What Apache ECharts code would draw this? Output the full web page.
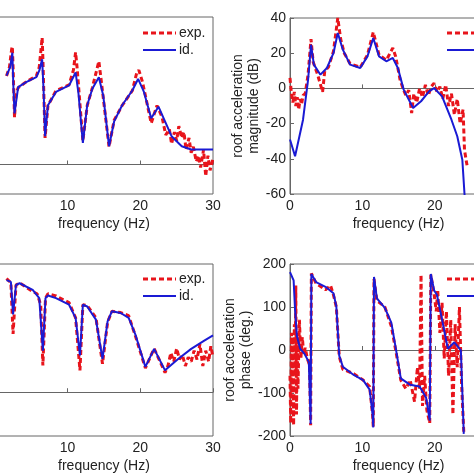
<!DOCTYPE html>
<html><head><meta charset="utf-8">
<script src="https://cdn.jsdelivr.net/npm/echarts@6/dist/echarts.min.js"></script>
<style>html,body{margin:0;padding:0;background:#fff;overflow:hidden;width:474px;height:474px}#c{position:absolute;left:-12px;top:0;width:530px;height:474px}</style>
</head><body><div id="c"></div>
<script>
const xTicks=[0,10,20,30];
const legendNames=['exp.','id.'];
// top-left (arbitrary units, labels cropped)
const tlId=[[1.6,3.01],[2.1,3.3],[2.4,3.79],[2.55,2.6],[2.7,1.73],[3.2,2.62],[4.3,2.79],[5.7,2.96],[6.1,3.18],[6.5,3.57],[6.7,2.5],[6.9,0.96],[7.3,2.01],[8.4,2.46],[10.2,2.68],[11.1,3.12],[11.5,2.4],[12.1,0.73],[12.7,2.01],[13.4,2.57],[14.3,2.96],[14.9,2.34],[15.7,0.62],[16.4,1.46],[17.5,2.01],[18.9,2.51],[19.7,2.9],[20.5,2.46],[21.5,1.57],[22.5,1.96],[23.4,1.46],[24.3,0.96],[25.7,0.62],[27,0.51],[30,0.51]];
const tlExp=[[1.6,3.0],[2.0,3.3],[2.3,3.9],[2.4,4.0],[2.5,3.3],[2.7,1.6],[2.9,2.4],[3.2,2.6],[4.3,2.8],[5.7,3.0],[6.1,3.3],[6.3,3.8],[6.5,4.3],[6.6,3.6],[6.9,0.9],[7.3,2.0],[8.4,2.5],[10.2,2.7],[10.8,3.2],[11.1,3.8],[11.3,3.3],[12.1,0.8],[12.7,2.0],[13.4,2.6],[14.1,3.3],[14.3,3.5],[14.6,2.9],[15.7,0.6],[16.4,1.5],[17.5,2.0],[18.9,2.5],[19.5,3.1],[19.8,3.2],[20.3,2.8],[21.5,1.4],[22.3,2.0],[23.0,1.6],[23.5,1.0],[24.0,1.2],[24.3,0.7],[24.7,1.1],[25.0,0.8],[25.3,1.3],[25.7,0.9],[26.0,1.1],[26.3,0.5],[26.7,0.9],[27.0,0.4],[27.3,0.6],[27.7,0.1],[28.0,0.3],[28.3,-0.1],[28.7,0.5],[29.0,-0.4],[29.3,0.3],[29.6,-0.2],[30,0.2]];
// top-right magnitude (dB)
const trId=[[0,-29],[0.7,-38.6],[1.8,-17.8],[2.5,5],[2.9,24.8],[3.3,13.5],[4.2,7.8],[5.1,11.6],[6,20],[6.6,31.5],[7.3,22],[8.3,13.5],[9.7,11.6],[10.7,18.2],[11.5,28.6],[12.3,18.2],[13.3,15.4],[14.2,17.3],[14.9,11.6],[15.7,-0.7],[17,-11.1],[18.1,-7.3],[19.2,-1.7],[19.9,0.2],[21,-4.5],[22.3,-17.8],[23.1,-27.2],[23.8,-40.5],[24.1,-60],[24.5,-75]];
const trExp=[[0,6],[0.2,-3],[0.4,-8],[0.6,-2],[0.8,-10],[1.0,-5],[1.2,-12],[1.4,-6],[1.6,-9],[1.8,-4],[2.1,-3],[2.5,8],[2.9,28],[3.2,15],[3.8,8],[4.5,-2],[4.8,10],[5.3,12],[6,21],[6.6,40],[7.0,28],[7.5,20],[8.3,14],[9.7,12],[10.7,19],[11.5,32],[12.3,19],[13.3,16],[14.2,23],[14.6,18],[15.2,5],[15.6,0],[16.0,-4],[16.4,-1],[16.8,-14],[17.1,-3],[17.5,-8],[17.9,0],[18.3,-5],[18.7,2],[19.1,-4],[19.5,1],[19.9,3],[20.3,-2],[20.7,1],[21.1,-6],[21.5,2],[21.9,-10],[22.3,-3],[22.7,-15],[23.1,-6],[23.5,-20],[23.9,-12],[24.1,-35],[24.5,-45]];
// bottom-left (arbitrary units, labels cropped)
const blId=[[1.6,2.56],[2.2,2.52],[2.5,1.78],[2.9,2.45],[3.4,2.49],[5.2,2.34],[6.1,2.15],[6.6,0.95],[6.96,2.15],[7.3,2.21],[8.4,2.15],[10.2,2.0],[11.1,1.7],[11.7,0.84],[12.1,2.0],[12.7,1.96],[13.9,1.66],[14.8,0.76],[15.5,1.62],[16.1,1.85],[17.3,1.81],[18.4,1.7],[19.3,1.33],[20.7,0.58],[21.9,0.99],[23.4,0.5],[25.2,0.76],[27,0.99],[28.8,1.18],[30,1.3]];
const blExp=[[1.6,2.6],[2.2,2.5],[2.5,1.33],[2.9,2.45],[3.4,2.5],[5.2,2.3],[5.8,2.25],[6.3,2.0],[6.6,0.61],[6.96,2.15],[7.3,2.25],[8.4,2.2],[10.2,2.05],[11.1,1.7],[11.7,0.5],[12.1,2.0],[12.7,1.98],[13.9,1.7],[14.8,0.65],[15.5,1.6],[16.1,1.85],[17.3,1.82],[18.4,1.75],[19.3,1.3],[20.7,0.55],[21.9,1.0],[23.4,0.45],[23.8,0.6],[24.2,0.9],[24.6,0.7],[25.0,1.0],[25.4,0.75],[25.8,0.85],[26.2,0.6],[26.6,0.8],[27.0,0.7],[27.4,0.95],[27.8,0.75],[28.2,1.1],[28.6,0.6],[29.0,0.95],[29.4,0.7],[29.7,1.05],[30,0.8]];
// bottom-right phase (deg.)
const brId=[[0,181],[0.5,162],[0.7,94],[0.95,33],[1.4,3],[2,-9],[2.6,-28],[2.85,-172],[2.95,177],[3.6,158],[4.9,147],[6,132],[6.4,101],[6.8,-13],[7.3,-39],[8.8,-58],[10.1,-70],[11,-92],[11.4,-149],[11.5,-180],[11.6,170],[12,120],[13.1,98],[14,63],[14.7,-5],[15.3,-66],[16.6,-81],[17.9,-85],[18.8,-111],[19.3,-164],[19.45,177],[19.9,139],[20.3,128],[21,71],[21.8,3],[22.7,18],[23.6,-1],[24,-195]];
const brExp=[[0,-60],[0.1,-170],[0.2,40],[0.3,-110],[0.4,20],[0.5,-175],[0.6,60],[0.7,-60],[0.8,150],[0.9,-150],[1.0,40],[1.1,-90],[1.3,70],[1.5,-20],[1.7,30],[1.9,-10],[2.1,5],[2.4,-20],[2.7,-35],[2.85,-175],[2.95,178],[3.6,155],[4.9,140],[5.6,150],[6,128],[6.4,100],[6.8,-15],[7.3,-45],[8.8,-55],[10.1,-70],[11,-85],[11.4,-150],[11.5,-178],[11.6,165],[12,115],[13.1,100],[14,55],[14.7,-10],[15.3,-70],[16.0,-90],[16.6,-70],[17.2,-120],[17.6,-40],[17.9,-90],[18.1,175],[18.3,-130],[18.6,-60],[18.9,-140],[19.3,-170],[19.45,175],[19.9,130],[20.2,90],[20.4,140],[20.7,40],[21.0,110],[21.3,-20],[21.6,90],[21.9,-60],[22.2,70],[22.5,-150],[22.8,60],[23.1,-40],[23.4,100],[23.7,-80],[24,-190]];

const red='#e8141b', blue='#1a1ad4';
const font='Liberation Sans, Arial, sans-serif';
const grids=[
 {left:0,width:225,top:17,height:177},
 {left:302,width:228,top:18,height:176},
 {left:0,width:225,top:264,height:175},
 {left:302,width:228,top:264,height:175}
];
const yCfg=[
 {min:-1,max:5,interval:1,show:false},
 {min:-60,max:40,interval:20,show:true},
 {min:-1,max:2.93,interval:2,show:false},
 {min:-200,max:200,interval:100,show:true}
];
const yNames=['', 'roof acceleration\nmagnitude (dB)', '', 'roof acceleration\nphase (deg.)'];
const sets=[[tlExp,tlId],[trExp,trId],[blExp,blId],[brExp,brId]];
const legPos=[[155,33],[459,33],[155,279],[459,279]];
const graphic=[];
legPos.forEach(p=>{
 graphic.push({type:'line',shape:{x1:p[0],y1:p[1],x2:p[0]+33,y2:p[1]},style:{stroke:red,lineWidth:3,lineDash:[5,3]},z:10});
 graphic.push({type:'line',shape:{x1:p[0],y1:p[1]+17,x2:p[0]+33,y2:p[1]+17},style:{stroke:blue,lineWidth:2},z:10});
 graphic.push({type:'text',x:p[0]+36,y:p[1],style:{text:legendNames[0],font:'14px '+font,fill:'#222',verticalAlign:'middle'},z:10});
 graphic.push({type:'text',x:p[0]+36,y:p[1]+17,style:{text:legendNames[1],font:'14px '+font,fill:'#222',verticalAlign:'middle'},z:10});
});
const opt={animation:false,backgroundColor:'#fff',graphic:graphic,
 grid:grids.map(g=>Object.assign({show:true,borderColor:'#666',borderWidth:1,backgroundColor:'#fff',containLabel:false},g)),
 xAxis:grids.map((g,i)=>({gridIndex:i,type:'value',min:xTicks[0],max:xTicks[3],interval:10,
   name:'frequency (Hz)',nameLocation:'middle',nameGap:23,nameTextStyle:{fontFamily:font,fontSize:14,color:'#222'},
   axisLine:{lineStyle:{color:'#666'}},axisTick:{inside:true,length:4,lineStyle:{color:'#666'}},
   axisLabel:{fontFamily:font,fontSize:14,color:'#222',margin:5},splitLine:{show:false}})),
 yAxis:grids.map((g,i)=>({gridIndex:i,type:'value',min:yCfg[i].min,max:yCfg[i].max,interval:yCfg[i].interval,
   name:yNames[i],nameLocation:'middle',nameGap:28,nameTextStyle:{fontFamily:font,fontSize:14,color:'#222',lineHeight:16},
   axisLine:{lineStyle:{color:'#666'}},axisTick:{inside:true,length:4,lineStyle:{color:'#666'}},
   axisLabel:{show:yCfg[i].show,fontFamily:font,fontSize:14,color:'#222',margin:4},splitLine:{show:false}})),
 series:[]};
sets.forEach((s,i)=>{
 opt.series.push({name:legendNames[0],type:'line',xAxisIndex:i,yAxisIndex:i,data:s[0],showSymbol:false,symbol:'none',clip:true,
   lineStyle:{color:red,width:3,type:[5,3]},z:2});
 opt.series.push({name:legendNames[1],type:'line',xAxisIndex:i,yAxisIndex:i,data:s[1],showSymbol:false,symbol:'none',clip:true,
   lineStyle:{color:blue,width:2},z:3});
});
echarts.init(document.getElementById('c'),null,{renderer:'canvas'}).setOption(opt);
</script></body></html>
